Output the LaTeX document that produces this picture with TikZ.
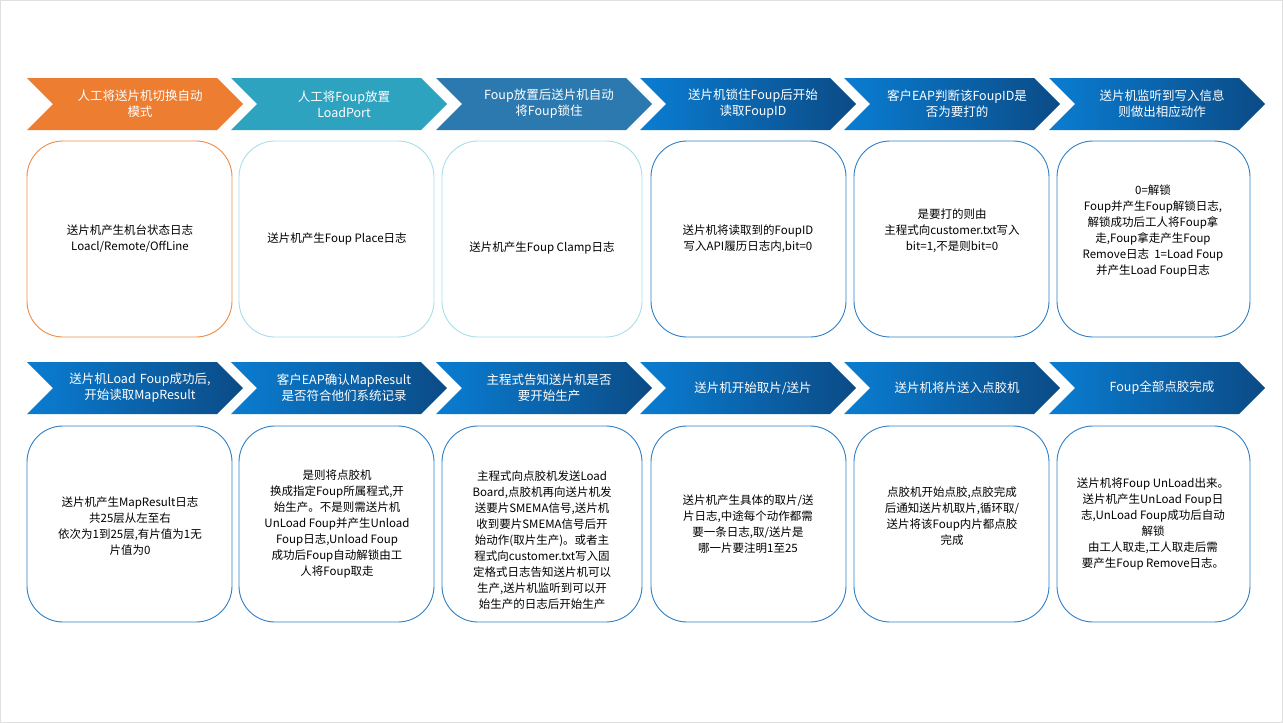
\documentclass[tikz,border=0pt]{standalone}
\usepackage{fontspec}
\setmainfont{Noto Sans CJK SC}
\begin{document}
\begin{tikzpicture}[x=1pt,y=-1pt,
  htext/.style={text=white,font=\fontsize{12.5}{16}\selectfont,align=center,text width=176pt},
  btext/.style={text=black,font=\fontsize{11.5}{16}\selectfont,align=center},
  boxo/.style={line width=0.9pt,rounded corners=36pt},
  boxl/.style={line width=0.9pt,rounded corners=36pt},
  boxb/.style={line width=0.9pt,rounded corners=36pt}]
\definecolor{corange}{HTML}{ED7D31}
\definecolor{cteal}{HTML}{2EA3C0}
\definecolor{csteel}{HTML}{2B79AE}
\definecolor{cbl}{HTML}{0A7DD2}
\definecolor{cbd}{HTML}{0B4B86}
\definecolor{cborder}{HTML}{2E7FC6}
\definecolor{clight}{HTML}{A9DDEA}
\definecolor{cob}{HTML}{EE8B45}
\useasboundingbox (0,0) rectangle (1283,723);
\draw[gray!25] (0.5,0.5) rectangle (1282.5,722.5);
\newcommand{\chev}[5]{% name, left x, top y, fill options, text
  \path[#4] (#2,#3) -- ++(190,0) -- ++(26,26) -- ++(-26,26) -- ++(-190,0) -- ++(26,-26) -- cycle;
  \node[htext] (#1) at ({#2+113},{#3+26}) {#5};}
\chev{h1}{27}{78}{fill=corange}{人工将送片机切换自动\\模式}
\chev{h2}{231}{78}{fill=cteal}{人工将Foup放置\\LoadPort}
\chev{h3}{436}{78}{fill=csteel}{Foup放置后送片机自动\\将Foup锁住}
\chev{h4}{640}{78}{left color=cbl,right color=cbd}{送片机锁住Foup后开始\\读取FoupID}
\chev{h5}{844}{78}{left color=cbl,right color=cbd}{客户EAP判断该FoupID是\\否为要打的}
\chev{h6}{1049}{78}{left color=cbl,right color=cbd}{送片机监听到写入信息\\则做出相应动作}
\chev{g1}{27}{362}{left color=cbl,right color=cbd}{送片机Load Foup成功后,\\开始读取MapResult}
\chev{g2}{231}{362}{left color=cbl,right color=cbd}{客户EAP确认MapResult\\是否符合他们系统记录}
\chev{g3}{436}{362}{left color=cbl,right color=cbd}{主程式告知送片机是否\\要开始生产}
\chev{g4}{640}{362}{left color=cbl,right color=cbd}{送片机开始取片/送片}
\chev{g5}{844}{362}{left color=cbl,right color=cbd}{送片机将片送入点胶机}
\chev{g6}{1049}{362}{left color=cbl,right color=cbd}{Foup全部点胶完成}
\newcommand{\bx}[6]{\draw[#6] (#2,#3) rectangle (#4,#5);}
\bx{b1}{27}{141}{232}{337}{boxo,draw=cob}
\bx{b2}{239}{141}{434}{337}{boxl,draw=clight}
\bx{b3}{442}{141}{642}{337}{boxl,draw=clight}
\bx{b4}{651}{141}{846}{337}{boxb,draw=cborder}
\bx{b5}{854}{141}{1049}{337}{boxb,draw=cborder}
\bx{b6}{1057}{141}{1250}{337}{boxb,draw=cborder}
\bx{c1}{27}{426}{232}{622}{boxb,draw=cborder}
\bx{c2}{239}{426}{434}{622}{boxb,draw=cborder}
\bx{c3}{442}{426}{642}{622}{boxb,draw=cborder}
\bx{c4}{651}{426}{846}{622}{boxb,draw=cborder}
\bx{c5}{854}{426}{1049}{622}{boxb,draw=cborder}
\bx{c6}{1057}{426}{1250}{622}{boxb,draw=cborder}
\node[btext] (t1) at (130,239) {送片机产生机台状态日志\\Loacl/Remote/OffLine};
\node[btext] (t2) at (337,239) {送片机产生Foup Place日志};
\node[btext] (t3) at (542,248) {送片机产生Foup Clamp日志};
\node[btext] (t4) at (748,239) {送片机将读取到的FoupID\\写入API履历日志内,bit=0};
\node[btext] (t5) at (952,231) {是要打的则由\\主程式向customer.txt写入\\bit=1,不是则bit=0};
\node[btext] (t6) at (1153,231) {0=解锁\\Foup并产生Foup解锁日志,\\解锁成功后工人将Foup拿\\走,Foup拿走产生Foup\\Remove日志\ \ 1=Load Foup\\并产生Load Foup日志};
\node[btext] (s1) at (130,526) {送片机产生MapResult日志\\共25层从左至右\\依次为1到25层,有片值为1无\\片值为0};
\node[btext] (s2) at (337,524) {是则将点胶机\\换成指定Foup所属程式,开\\始生产。不是则需送片机\\UnLoad Foup并产生Unload\\Foup日志,Unload Foup\\成功后Foup自动解锁由工\\人将Foup取走};
\node[btext] (s3) at (542,540) {主程式向点胶机发送Load\\Board,点胶机再向送片机发\\送要片SMEMA信号,送片机\\收到要片SMEMA信号后开\\始动作(取片生产)。或者主\\程式向customer.txt写入固\\定格式日志告知送片机可以\\生产,送片机监听到可以开\\始生产的日志后开始生产};
\node[btext] (s4) at (748,524) {送片机产生具体的取片/送\\片日志,中途每个动作都需\\要一条日志,取/送片是\\哪一片要注明1至25};
\node[btext] (s5) at (952,516) {点胶机开始点胶,点胶完成\\后通知送片机取片,循环取/\\送片将该Foup内片都点胶\\完成};
\node[btext] (s6) at (1153,524) {送片机将Foup UnLoad出来。\\送片机产生UnLoad Foup日\\志,UnLoad Foup成功后自动\\解锁\\由工人取走,工人取走后需\\要产生Foup Remove日志。};
\end{tikzpicture}
\end{document}
